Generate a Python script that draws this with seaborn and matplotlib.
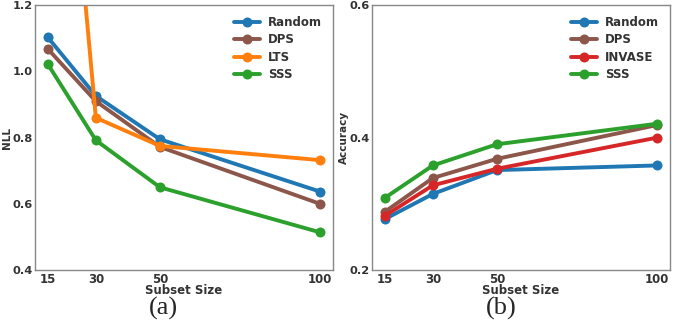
import numpy as np
import pandas as pd
import matplotlib
matplotlib.use("Agg")
import matplotlib.pyplot as plt
import seaborn as sns

subset_sizes = [15, 30, 50, 100]

nll_random = [1.103, 0.926, 0.795, 0.637]
nll_dps = [1.068, 0.910, 0.772, 0.600]
nll_lts = [2.45, 0.860, 0.775, 0.732]
nll_sss = [1.022, 0.792, 0.650, 0.514]

acc_random = [0.277, 0.315, 0.351, 0.358]
acc_dps = [0.288, 0.339, 0.368, 0.419]
acc_invase = [0.282, 0.328, 0.353, 0.400]
acc_sss = [0.309, 0.358, 0.390, 0.421]

sns.set_theme(style="white")
plt.rcParams['font.family'] = ['DejaVu Sans']

colors = {"Random": "#1f77b4", "DPS": "#8c564b", "LTS": "#ff7f0e",
          "INVASE": "#d62728", "SSS": "#2ca02c"}

fig = plt.figure(figsize=(6.77, 3.25), dpi=100)
ax1 = fig.add_axes([0.0517, 0.169, 0.440, 0.815])
ax2 = fig.add_axes([0.5495, 0.169, 0.440, 0.815])

def draw(ax, series, ylim, yticks, ylabel, tag, tagx):
    rows = []
    for name, vals in series:
        for x, v in zip(subset_sizes, vals):
            rows.append({"Subset Size": x, "value": v, "method": name})
    df = pd.DataFrame(rows)
    order = [n for n, _ in series]
    sns.lineplot(data=df, x="Subset Size", y="value", hue="method",
                 hue_order=order, palette=[colors[n] for n in order],
                 marker="o", markersize=7.2, markeredgewidth=0,
                 linewidth=2.8, ax=ax)
    ax.set_xlim(11, 104)
    ax.set_ylim(*ylim)
    ax.set_xticks(subset_sizes)
    ax.set_xticklabels([str(s) for s in subset_sizes])
    ax.set_yticks(yticks)
    ax.set_yticklabels([f"{t:.1f}" for t in yticks])
    ax.tick_params(axis="x", length=0, pad=2, labelsize=8.5, labelcolor="#333333")
    ax.tick_params(axis="y", length=0, pad=1.5, labelsize=8.2, labelcolor="#333333")
    for lab in ax.get_xticklabels() + ax.get_yticklabels():
        lab.set_fontweight("bold")
    ax.set_xlabel("Subset Size", fontsize=8.5, fontweight="bold", color="#333333", labelpad=-1)
    ax.set_ylabel(ylabel, fontsize=7.5, fontweight="bold", color="#333333")
    ax.yaxis.set_label_coords(-0.077, 0.5)
    for sp in ax.spines.values():
        sp.set_color("#888888")
        sp.set_linewidth(1.0)
    leg = ax.legend(loc="upper right", frameon=False, fontsize=8.5,
                    handlelength=2.2, borderaxespad=0.5, labelspacing=0.38,
                    handletextpad=0.7)
    for t in leg.get_texts():
        t.set_fontweight("bold")
        t.set_color("#333333")
    fig.text(tagx, 1 - 308 / 325, tag, ha="center", va="center",
             fontsize=19, family="Liberation Serif")

draw(ax1, [("Random", nll_random), ("DPS", nll_dps), ("LTS", nll_lts), ("SSS", nll_sss)],
     (0.4, 1.2), [0.4, 0.6, 0.8, 1.0, 1.2], "NLL", "(a)", 163 / 677)
draw(ax2, [("Random", acc_random), ("DPS", acc_dps), ("INVASE", acc_invase), ("SSS", acc_sss)],
     (0.2, 0.6), [0.2, 0.4, 0.6], "Accuracy", "(b)", 501 / 677)

fig.savefig("out.png", dpi=100)
